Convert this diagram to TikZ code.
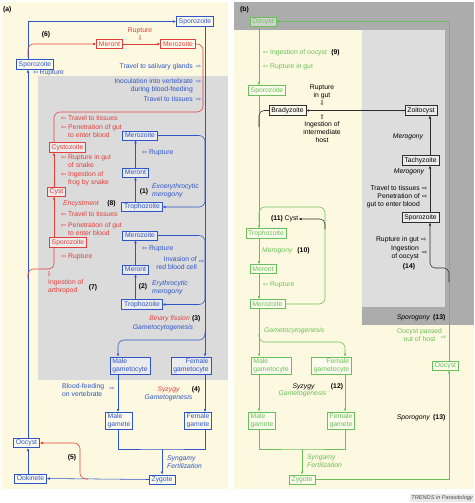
\documentclass[tikz,border=0pt]{standalone}
\usepackage{fontspec}
\setmainfont{Liberation Sans}
\newfontfamily\symf{DejaVu Sans}
\usetikzlibrary{arrows.meta}
\definecolor{cream}{RGB}{253,248,224}
\definecolor{grayA}{RGB}{219,219,219}
\definecolor{grayL}{RGB}{221,221,221}
\definecolor{grayD}{RGB}{172,172,172}
\definecolor{cblue}{RGB}{45,85,200}
\definecolor{cred}{RGB}{228,62,58}
\definecolor{cgreen}{RGB}{105,192,88}
\definecolor{cdark}{RGB}{45,45,45}
\newcommand{\symLa}{{\symf\fontsize{6.4}{6.4}\selectfont ⇦}}
\newcommand{\symRa}{{\symf\fontsize{6.4}{6.4}\selectfont ⇨}}
\newcommand{\symDa}{{\symf\fontsize{6.4}{6.4}\selectfont ⇩}}
\newcommand{\symUa}{{\symf\fontsize{6.4}{6.4}\selectfont ⇧}}
\begin{document}
\begin{tikzpicture}[x=1pt,y=-1pt,
  every node/.style={font=\fontsize{6.8}{7.8}\selectfont, inner sep=0pt},
  box/.style={draw, line width=0.55pt, fill=white, fill opacity=0.45, text opacity=1,
    inner xsep=2.4pt, inner ysep=1.6pt, minimum height=9pt},
  bbox/.style={box, draw=cblue, text=cblue},
  rbox/.style={box, draw=cred, text=cred},
  gbox/.style={box, draw=cgreen, text=cgreen},
  kbox/.style={box, draw=cdark, text=black},
  bl/.style={draw=cblue, line width=0.55pt},
  rl/.style={draw=cred, line width=0.55pt},
  gl/.style={draw=cgreen, line width=0.55pt},
  kl/.style={draw=cdark, line width=0.55pt},
  arr/.style={-{Latex[length=3pt,width=2.6pt]}},
  num/.style={font=\fontsize{6.8}{7.8}\selectfont\bfseries, text=black},
  bt/.style={text=cblue}, rt/.style={text=cred}, gt/.style={text=cgreen}, kt/.style={text=black},
  it/.style={font=\fontsize{6.8}{7.8}\selectfont\itshape}
]
\useasboundingbox (0,0) rectangle (474,503);
% backgrounds
\fill[cream] (2,2) rectangle (228,489);
\fill[grayA] (38,76) rectangle (228,380);
\fill[cream] (234,2) rectangle (474,489);
\fill[grayD] (234,2) rectangle (474,30);
\fill[grayD] (445,2) rectangle (474,325);
\fill[grayD] (362,307) rectangle (474,325);
\fill[grayL] (362,30) rectangle (445,307);

% coordinates
\coordinate (xL) at (28,0);
\coordinate (xR) at (205,0);
\coordinate (xE) at (135.5,0);
\coordinate (rA) at (28,57);
\coordinate (rTR) at (203,112);
\coordinate (rTL) at (54,112);
\coordinate (rB) at (28,279);
\coordinate (rBm) at (54,269);
\coordinate (r5) at (88,479);
\coordinate (r5c) at (80,443);
\coordinate (gA) at (205,332);
\coordinate (gAm) at (118,340);
\coordinate (zJ) at (162,449);
\coordinate (xG) at (449,0);
\coordinate (xg) at (259,0);
\coordinate (xD) at (430,0);
\coordinate (bJ) at (259,127);
\coordinate (g14) at (449,282);
\coordinate (g14m) at (430,268);
\coordinate (lp) at (325,207);
\coordinate (lpE) at (259,222);
\coordinate (c11) at (325,229);
\coordinate (gB) at (259,334);
\coordinate (gBm) at (345,342);
\coordinate (zJB) at (302,449);

% ===== panel (a) boxes =====
\node[bbox] (spT) at (195,21.5) {Sporozoite};
\node[bbox] (spL) at (35,64.5) {Sporozoite};
\node[rbox] (mer6) at (109.5,44) {Meront};
\node[rbox] (mz6) at (178,44) {Merozoite};
\node[rbox] (cystozoite) at (67.5,147.5) {Cystozoite};
\node[rbox] (cyst) at (56.5,191.5) {Cyst};
\node[rbox] (sp8) at (68,242.5) {Sporozoite};
\node[bbox] (mz1) at (140,135.5) {Merozoite};
\node[bbox] (mer1) at (135.5,172.5) {Meront};
\node[bbox] (tr1) at (142,207) {Trophozoite};
\node[bbox] (mz2) at (140,235.5) {Merozoite};
\node[bbox] (mer2) at (135.5,269.5) {Meront};
\node[bbox] (tr2) at (142,304.5) {Trophozoite};
\node[bbox, align=left] (mgc) at (130,365.5) {Male\\gametocyte};
\node[bbox, align=right] (fgc) at (191,365.5) {Female\\gametocyte};
\node[bbox, align=left] (mg) at (119,421) {Male\\gamete};
\node[bbox, align=right] (fg) at (198,421) {Female\\gamete};
\node[bbox] (zyg) at (162,479.5) {Zygote};
\node[bbox] (ook) at (30.5,478.5) {Ookinete};
\node[bbox] (ooc) at (26.5,443) {Oocyst};

% ===== panel (a) connectors =====
\draw[bl,arr] (spL.north -| xL) |- (spT.west);
\draw[bl,arr] (ooc.north -| xL) -- (spL.south -| xL);
\draw[bl,arr] (ook.north -| xL) -- (ooc.south -| xL);
\draw[bl,arr] (zyg.west) -- (ook.east);
\draw[rl,arr,rounded corners=5pt] (rA) |- (mer6.west);
\draw[rl,arr] (mer6.east) -- (mz6.west);
\draw[rl,rounded corners=6pt] (mz6.east) -| (rTR) -- (rTL) -- (cystozoite.north -| rTL);
\draw[rl,arr] (cyst.north -| rTL) -- (cystozoite.south -| rTL);
\draw[rl,arr] (sp8.north -| rTL) -- (cyst.south -| rTL);
\draw[rl,rounded corners=5pt] (rB) |- (rBm) -- (sp8.south -| rTL);
\draw[rl,arr,rounded corners=6pt] (r5) -| (r5c) -- (ooc.east);
\draw[bl,arr] (spT.south -| xR) -- (fgc.north -| xR);
\draw[bl,arr,rounded corners=6pt] (mz1.east) -| (xR |- tr1.east) -- (tr1.east);
\draw[bl,arr,rounded corners=6pt] (mz2.east) -| (xR |- tr2.east) -- (tr2.east);
\draw[bl,arr,rounded corners=6pt] (gA) |- (gAm) -- (mgc.north -| gAm);
\draw[bl,arr] (tr1.north -| xE) -- (mer1.south -| xE);
\draw[bl,arr] (mer1.north -| xE) -- (mz1.south -| xE);
\draw[bl,arr] (tr2.north -| xE) -- (mer2.south -| xE);
\draw[bl,arr] (mer2.north -| xE) -- (mz2.south -| xE);
\draw[bl,arr] (mgc.south -| gAm) -- (mg.north -| gAm);
\draw[bl,arr] (fgc.south -| xR) -- (fg.north -| xR);
\draw[bl] (mg.south -| gAm) |- (zJ) -| (fg.south -| xR);
\draw[bl,arr] (zJ) -- (zyg.north);

% ===== panel (a) labels =====
\node[num, anchor=west] (la) at (3,10) {(a)};
\node[num] (n6) at (46,35) {(6)};
\node[rt] (t6a) at (140,31) {Rupture};
\node[rt] (t6b) at (140,38.5) {\symDa};
\node[bt, anchor=west] (ta1) at (33,73) {\symLa\,Rupture};
\node[bt, anchor=east] (ta2) at (193,67) {Travel to salivary glands\rlap{\hspace{3pt}\symRa}};
\node[bt, anchor=east, align=right] (ta3) at (193,85.5) {Inoculation into vertebrate\rlap{\hspace{3pt}\symRa}\\during blood-feeding};
\node[bt, anchor=east] (ta4) at (193,99) {Travel to tissues\rlap{\hspace{3pt}\symRa}};
\node[rt, anchor=west] (tr01) at (68,118) {\llap{\symLa\hspace{2pt}}Travel to tissues};
\node[rt, anchor=west, align=left] (tr02) at (68,131) {\llap{\symLa\hspace{2pt}}Penetration of gut\\to enter blood};
\node[rt, anchor=west, align=left] (tr03) at (68,161) {\llap{\symLa\hspace{2pt}}Rupture in gut\\of snake};
\node[rt, anchor=west, align=left] (tr04) at (68,178.5) {\llap{\symLa\hspace{2pt}}Ingestion of\\frog by snake};
\node[rt, it, anchor=west] (tr05) at (63,204) {Encystment};
\node[num] (n8) at (111.5,204) {(8)};
\node[rt, anchor=west] (tr06) at (68,214) {\llap{\symLa\hspace{2pt}}Travel to tissues};
\node[rt, anchor=west, align=left] (tr07) at (68,229) {\llap{\symLa\hspace{2pt}}Penetration of gut\\to enter blood};
\node[rt, anchor=west] (tr08) at (68,257) {\llap{\symLa\hspace{2pt}}Rupture};
\node[rt] (tr09) at (49,274) {\symDa};
\node[rt, anchor=west, align=left] (tr10) at (48,287) {Ingestion of\\arthropod};
\node[num] (n7) at (93,288) {(7)};
\node[bt, anchor=west] (tb1) at (149,153) {\llap{\symLa\hspace{2pt}}Rupture};
\node[num] (n1) at (144,192) {(1)};
\node[bt, it, anchor=west, align=left] (tb2) at (152,191) {Exoerythrocytic\\merogony};
\node[bt, anchor=west] (tb3) at (149,249) {\llap{\symLa\hspace{2pt}}Rupture};
\node[bt, anchor=east, align=right] (tb4) at (197,263) {Invasion of\\red blood cell};
\node[bt] (tb4a) at (201.5,262) {\symRa};
\node[num] (n2) at (143,287) {(2)};
\node[bt, it, anchor=west, align=left] (tb5) at (152,288) {Erythrocytic\\merogony};
\node[rt, it, anchor=east] (tb6) at (190,319) {Binary fission};
\node[num, anchor=west] (n3) at (192,319) {(3)};
\node[bt, it] (tb7) at (163,328) {Gametocytogenesis};
\node[bt, anchor=west, align=left] (tb8) at (62,390) {Blood-feeding\\on vertebrate};
\node[bt] (tb8a) at (112,389) {\symRa};
\node[rt, it] (tb9) at (168.5,390) {Syzygy};
\node[num] (n4) at (196,390) {(4)};
\node[bt, it] (tb10) at (168.5,398) {Gametogenesis};
\node[bt, it, anchor=west, align=left] (tb11) at (167,462) {Syngamy\\Fertilization};
\node[num] (n5) at (72,458) {(5)};

% ===== panel (b) boxes =====
\node[gbox] (oocT) at (263,21.5) {Oocyst};
\node[gbox] (spB) at (267,90.5) {Sporozoite};
\node[kbox] (brady) at (287.5,110.5) {Bradyzoite};
\node[kbox] (zoit) at (421,110.5) {Zoitocyst};
\node[kbox] (tach) at (420.5,160.5) {Tachyzoite};
\node[kbox] (spG) at (420.5,217.5) {Sporozoite};
\node[gbox] (trB) at (266,233.5) {Trophozoite};
\node[gbox] (merB) at (263,269) {Meront};
\node[gbox] (mzB) at (267.5,304) {Merozoite};
\node[gbox, align=left] (mgcB) at (271,365.5) {Male\\gametocyte};
\node[gbox, align=right] (fgcB) at (331.5,365.5) {Female\\gametocyte};
\node[gbox, align=left] (mgB) at (262,420.5) {Male\\gamete};
\node[gbox, align=right] (fgB) at (341,420.5) {Female\\gamete};
\node[gbox] (zygB) at (302,479.5) {Zygote};
\node[gbox] (oocR) at (445.5,365.5) {Oocyst};
\node[kt] (cyst11) at (291.5,219) {Cyst};

% ===== panel (b) connectors =====
\draw[gl,arr] (oocR.north -| xG) |- (oocT.east);
\draw[gl,arr] (zygB.east) -| (oocR.south -| xG);
\draw[gl,arr] (oocT.south -| xg) -- (spB.north -| xg);
\draw[gl,arr] (spB.south -| xg) -- (trB.north -| xg);
\draw[kl,rounded corners=5pt] (brady.west) -| (bJ);
\draw[kl,arr] (zoit.west) -- (brady.east);
\draw[kl,arr] (tach.north -| xD) -- (zoit.south -| xD);
\draw[kl,arr] (spG.north -| xD) -- (tach.south -| xD);
\draw[kl,arr,rounded corners=5pt] (g14) |- (g14m) -- (spG.south -| xD);
\draw[gl,rounded corners=6pt] (mzB.east) -| (lp) -| (lpE);
\draw[kl,arr,rounded corners=5pt] (c11) |- (cyst11.east);
\draw[gl,arr] (trB.south -| xg) -- (merB.north -| xg);
\draw[gl,arr] (merB.south -| xg) -- (mzB.north -| xg);
\draw[gl,arr] (mzB.south -| xg) -- (mgcB.north -| xg);
\draw[gl,arr,rounded corners=6pt] (gB) |- (gBm) -- (fgcB.north -| gBm);
\draw[gl,arr] (mgcB.south -| xg) -- (mgB.north -| xg);
\draw[gl,arr] (fgcB.south -| gBm) -- (fgB.north -| gBm);
\draw[gl] (mgB.south -| xg) |- (zJB) -| (fgB.south -| gBm);
\draw[gl,arr] (zJB) -- (zygB.north);

% ===== panel (b) labels =====
\node[num, anchor=west] (lb) at (240,10) {(b)};
\node[gt, anchor=west] (tg1) at (270,53) {\llap{\symLa\hspace{2pt}}Ingestion of oocyst};
\node[num] (n9) at (335.5,53) {(9)};
\node[gt, anchor=west] (tg2) at (270,67) {\llap{\symLa\hspace{2pt}}Rupture in gut};
\node[kt, align=center] (tk1) at (322,95.5) {Rupture\\in gut\\\symDa};
\node[kt, align=center] (tk2) at (322,128.5) {\symUa\\Ingestion of\\intermediate\\host};
\node[kt, it] (tk3) at (408,137) {Merogony};
\node[kt, it] (tk4) at (409,172) {Merogony};
\node[kt, anchor=east] (tk5) at (420,188) {Travel to tissues\rlap{\hspace{2pt}\symRa}};
\node[kt, anchor=east, align=right] (tk6) at (420,201) {Penetration of\rlap{\hspace{2pt}\symRa}\\gut to enter blood};
\node[kt, anchor=east] (tk7) at (419,240) {Rupture in gut\rlap{\hspace{2pt}\symRa}};
\node[kt, anchor=east, align=right] (tk8) at (419,253) {Ingestion\\of oocyst};
\node[kt] (tk8a) at (424.5,253) {\symRa};
\node[num] (n14) at (409,267) {(14)};
\node[num] (n11) at (277,219) {(11)};
\node[gt, it, anchor=west] (tg3) at (262,251) {Merogony};
\node[num] (n10) at (303.5,251) {(10)};
\node[gt, anchor=west] (tg4) at (270,285) {\llap{\symLa\hspace{2pt}}Rupture};
\node[gt, it, anchor=west] (tg5) at (264,331) {Gametocytogenesis};
\node[kt, it, anchor=east] (tk9) at (430,318) {Sporogony};
\node[num, anchor=west] (n13a) at (433,318) {(13)};
\node[gt, align=center] (tg6) at (419.5,335) {Oocyst passed\\out of host};
\node[gt] (tg6a) at (443.5,338) {\symRa};
\node[kt, it] (tk10) at (303.5,387) {Syzygy};
\node[num] (n12) at (337,387) {(12)};
\node[gt, it] (tg7) at (302.5,394) {Gametogenesis};
\node[gt, it, anchor=west, align=left] (tg8) at (307,461) {Syngamy\\Fertilization};
\node[kt, it, anchor=east] (tk11) at (430,418) {Sporogony};
\node[num, anchor=west] (n13b) at (433,418) {(13)};
\node[fill=gray!18, anchor=east, inner sep=1pt, text=gray!60!black,
      font=\fontsize{5.6}{6}\selectfont\itshape] (trends) at (474,498) {TRENDS in Parasitology};
\end{tikzpicture}
\end{document}
